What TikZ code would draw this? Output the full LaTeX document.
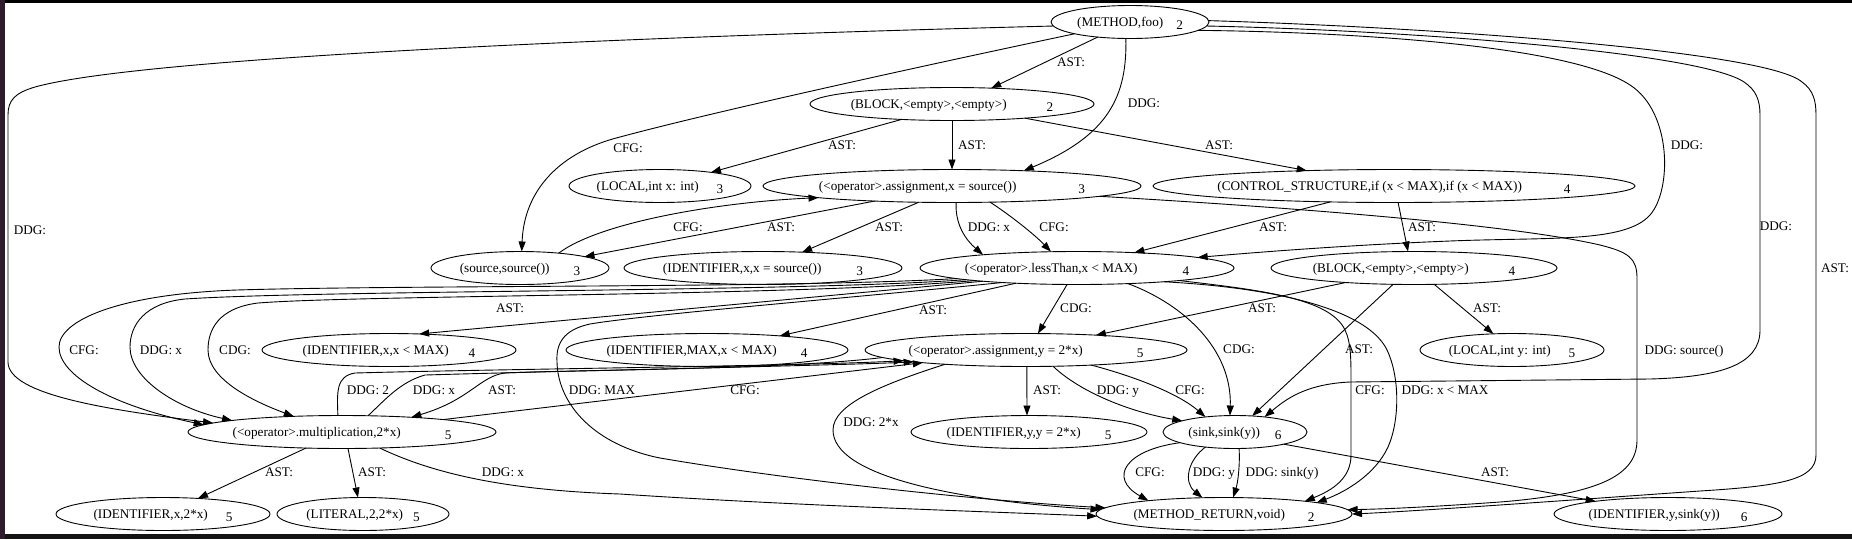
\documentclass[tikz,border=0pt]{standalone}
\usepackage{fontspec}
\setmainfont{Liberation Serif}
\usetikzlibrary{arrows.meta,shapes.geometric}
\definecolor{framedark}{RGB}{45,27,46}
\newcommand\glab[3]{\makebox[0pt]{\raisebox{-4.5pt}[0pt][0pt]{#1\hspace{#2pt}\raisebox{-3pt}{#3}}}}
\begin{document}
\begin{tikzpicture}[x=1pt,y=-1pt,
  gn/.style={draw, ellipse, line width=0.9pt, inner sep=0pt, outer sep=0pt, minimum height=33pt, font=\fontsize{13.2}{15}\selectfont},
  e/.style={draw, line width=0.9pt, -{Triangle[length=10pt,width=7pt]}},
  el/.style={font=\fontsize{13.2}{15}\selectfont, inner sep=0pt, text height=8.5pt, text depth=0pt}]
\useasboundingbox (0,0) rectangle (1852,539);
\fill[white] (0,0) rectangle (1852,539);
\fill[black] (0,0) rectangle (1852,3);
\fill[black!92] (0,534) rectangle (1852,539);
\fill[framedark] (0,0) rectangle (5,539);

% nodes
\node[gn, minimum width=158] (mfoo) at (1130,22) {\glab{(METHOD,foo)}{13}{2}};
\node[gn, minimum width=284] (blk1) at (952,104) {\glab{(BLOCK,<empty>,<empty>)}{40}{2}};
\node[gn, minimum width=182] (locx) at (660,186) {\glab{(LOCAL,int x: int)}{18}{3}};
\node[gn, minimum width=378] (asgx) at (952,186) {\glab{(<operator>.assignment,x = source())}{62}{3}};
\node[gn, minimum width=482] (ctrl) at (1394,186) {\glab{(CONTROL\_STRUCTURE,if (x < MAX),if (x < MAX))}{42}{4}};
\node[gn, minimum width=178] (src) at (520,268) {\glab{(source,source())}{24}{3}};
\node[gn, minimum width=278] (idx) at (763,268) {\glab{(IDENTIFIER,x,x = source())}{35}{3}};
\node[gn, minimum width=314] (lt) at (1077,268) {\glab{(<operator>.lessThan,x < MAX)}{45}{4}};
\node[gn, minimum width=286] (blk2) at (1414,268) {\glab{(BLOCK,<empty>,<empty>)}{40}{4}};
\node[gn, minimum width=254] (idxlt) at (389,350) {\glab{(IDENTIFIER,x,x < MAX)}{20}{4}};
\node[gn, minimum width=282] (idmax) at (707,350) {\glab{(IDENTIFIER,MAX,x < MAX)}{24}{4}};
\node[gn, minimum width=322] (asgy) at (1026,350) {\glab{(<operator>.assignment,y = 2*x)}{54}{5}};
\node[gn, minimum width=184] (locy) at (1512,350) {\glab{(LOCAL,int y: int)}{18}{5}};
\node[gn, minimum width=308] (mul) at (342,432) {\glab{(<operator>.multiplication,2*x)}{44}{5}};
\node[gn, minimum width=236] (idy) at (1029,432) {\glab{(IDENTIFIER,y,y = 2*x)}{24}{5}};
\node[gn, minimum width=144] (sink) at (1235,432) {\glab{(sink,sink(y))}{15}{6}};
\node[gn, minimum width=214] (idx2) at (163,514) {\glab{(IDENTIFIER,x,2*x)}{18}{5}};
\node[gn, minimum width=172] (lit) at (363,514) {\glab{(LITERAL,2,2*x)}{10}{5}};
\node[gn, minimum width=256] (mret) at (1224,514) {\glab{(METHOD\_RETURN,void)}{23}{2}};
\node[gn, minimum width=228] (idys) at (1668,514) {\glab{(IDENTIFIER,y,sink(y))}{21}{6}};

% edges from METHOD,foo
\draw[e] (mfoo.205) -- (blk1.22) node[el] at (1071,62) {AST:};
\draw[e] (mfoo.192) .. controls (950,60) and (720,110) .. (620,137) .. controls (560,152) and (524,190) .. (src.84) node[el] at (628,148) {CFG:};
\draw[e] (mfoo.256) .. controls (1127,95) and (1110,135) .. (asgx.12) node[el] at (1144,103) {DDG:};
\draw[e] (mfoo.353) .. controls (1350,32) and (1570,45) .. (1630,85) .. controls (1672,112) and (1672,190) .. (1650,215) .. controls (1625,243) and (1550,237) .. (1450,241) .. controls (1350,245) and (1260,252) .. (lt.5) node[el] at (1687,145) {DDG:};
\draw[e] (mfoo.183) .. controls (700,35) and (150,55) .. (35,87) .. controls (15,93) and (8,100) .. (8,115) -- (8,362) .. controls (8,395) and (110,410) .. (mul.176) node[el] at (30,230) {DDG:};
\draw[e] (mfoo.357) .. controls (1400,30) and (1700,52) .. (1744,82) .. controls (1756,90) and (1760,100) .. (1760,115) -- (1760,330) .. controls (1760,365) and (1720,377) .. (1650,379) -- (1350,382) .. controls (1305,384) and (1285,400) .. (sink.27) node[el] at (1776,226) {DDG:};
\draw[e] (mfoo.1) .. controls (1450,28) and (1768,52) .. (1802,82) .. controls (1813,90) and (1816,100) .. (1816,115) -- (1816,455) .. controls (1816,480) and (1780,486) .. (1700,491) .. controls (1600,498) and (1420,511) .. (mret.0) node[el] at (1835,268) {AST:};

% BLOCK 2
\draw[e] (blk1.197) -- (locx.15) node[el] at (842,145) {AST:};
\draw[e] (blk1.south) -- (asgx.north) node[el] at (972,145) {AST:};
\draw[e] (blk1.349) -- (ctrl.170) node[el] at (1219,145) {AST:};

% assignment x
\draw[e] (asgx.206) -- (idx.22) node[el] at (889,227) {AST:};
\draw[e] (asgx.191) -- (src.10) node[el] at (781,227) {AST:};
\draw[e] (src.21) .. controls (600,222) and (720,202) .. (asgx.185) node[el] at (688,227) {CFG:};
\draw[e] (asgx.284) .. controls (955,225) and (966,240) .. (lt.172) node[el] at (989,227) {DDG: x};
\draw[e] (asgx.337) .. controls (1010,215) and (1035,235) .. (lt.148) node[el] at (1054,227) {CFG:};
\draw[e] (asgx.356) .. controls (1250,205) and (1500,222) .. (1600,245) .. controls (1628,252) and (1637,258) .. (1637,278) -- (1637,440) .. controls (1637,475) and (1600,494) .. (1500,502) .. controls (1430,507) and (1385,509) .. (mret.2) node[el] at (1684,350) {DDG: source()};

% control structure
\draw[e] (ctrl.194) -- (lt.15) node[el] at (1273,227) {AST:};
\draw[e] (ctrl.284) -- (blk2.110) node[el] at (1422,227) {AST:};

% lessThan
\draw[e] (lt.185) .. controls (800,288) and (400,285) .. (237,290) .. controls (120,294) and (59,320) .. (59,347) .. controls (59,375) and (110,405) .. (mul.177) node[el] at (84,350) {CFG:};
\draw[e] (lt.186) .. controls (800,292) and (320,290) .. (185,299) .. controls (145,303) and (130,325) .. (130,347) .. controls (130,378) and (175,408) .. (mul.174) node[el] at (161,350) {DDG: x};
\draw[e] (lt.187) .. controls (800,296) and (360,295) .. (258,303) .. controls (218,308) and (208,330) .. (208,350) .. controls (208,380) and (255,402) .. (mul.162) node[el] at (235,350) {CDG:};
\draw[e] (lt.188) -- (idxlt.28) node[el] at (510,308) {AST:};
\draw[e] (lt.194) -- (idmax.11) node[el] at (933,310) {AST:};
\draw[e] (lt.191) .. controls (850,298) and (650,314) .. (590,324) .. controls (562,330) and (556,345) .. (557,362) .. controls (558,405) and (595,445) .. (660,458) .. controls (800,482) and (1000,502) .. (mret.177) node[el] at (602,390) {DDG: MAX};
\draw[e] (lt.239) -- (asgy.54) node[el] at (1076,308) {CDG:};
\draw[e] (lt.343) .. controls (1185,305) and (1232,350) .. (sink.107) node[el] at (1239,349) {CDG:};
\draw[e] (lt.353) .. controls (1260,290) and (1330,298) .. (1345,330) .. controls (1351,342) and (1351,360) .. (1351,380) -- (1351,455) .. controls (1351,478) and (1333,490) .. (mret.9) node[el] at (1370,390) {CFG:};
\draw[e] (lt.351) .. controls (1280,288) and (1365,310) .. (1386,348) .. controls (1400,375) and (1400,420) .. (1388,447) .. controls (1375,475) and (1345,492) .. (mret.7) node[el] at (1445,390) {DDG: x < MAX};

% BLOCK 4
\draw[e] (blk2.192) -- (asgy.12) node[el] at (1262,308) {AST:};
\draw[e] (blk2.321) -- (locy.139) node[el] at (1487,308) {AST:};
\draw[e] (blk2.218) -- (sink.43) node[el] at (1359,349) {AST:};

% assignment y
\draw[e] (asgy.273) -- (idy.97) node[el] at (1047,390) {AST:};
\draw[e] (asgy.329) .. controls (1080,392) and (1130,412) .. (sink.168) node[el] at (1118,390) {DDG: y};
\draw[e] (asgy.347) .. controls (1140,378) and (1180,395) .. (sink.153) node[el] at (1190,390) {CFG:};
\draw[e] (asgy.183) .. controls (780,370) and (560,370) .. (505,373) .. controls (480,376) and (470,400) .. (mul.12) node[el] at (502,390) {AST:};
\draw[e] (asgy.190) .. controls (880,385) and (833,405) .. (833,430) .. controls (833,475) and (950,500) .. (mret.178) node[el] at (871,422) {DDG: 2*x};

% multiplication
\draw[e] (mul.104) .. controls (337,392) and (336,376) .. (355,373) .. controls (500,369) and (800,366) .. (asgy.185) node[el] at (368,390) {DDG: 2};
\draw[e] (mul.32) .. controls (385,400) and (400,382) .. (425,375) .. controls (600,370) and (850,365) .. (asgy.186) node[el] at (434,390) {DDG: x};
\draw[e] (mul.7) -- (asgy.187) node[el] at (745,390) {CFG:};
\draw[e] (mul.204) -- (idx2.24) node[el] at (279,472) {AST:};
\draw[e] (mul.290) -- (lit.107) node[el] at (372,472) {AST:};
\draw[e] (mul.337) .. controls (430,472) and (500,490) .. (620,494) .. controls (800,506) and (1000,512) .. (mret.181) node[el] at (503,472) {DDG: x};

% sink
\draw[e] (sink.191) .. controls (1125,450) and (1108,478) .. (mret.170) node[el] at (1150,472) {CFG:};
\draw[e] (sink.207) .. controls (1188,460) and (1183,482) .. (mret.143) node[el] at (1214,472) {DDG: y};
\draw[e] (sink.284) .. controls (1240,465) and (1238,482) .. (mret.61) node[el] at (1282,472) {DDG: sink(y)};
\draw[e] (sink.346) -- (idys.170) node[el] at (1495,472) {AST:};
\end{tikzpicture}
\end{document}
